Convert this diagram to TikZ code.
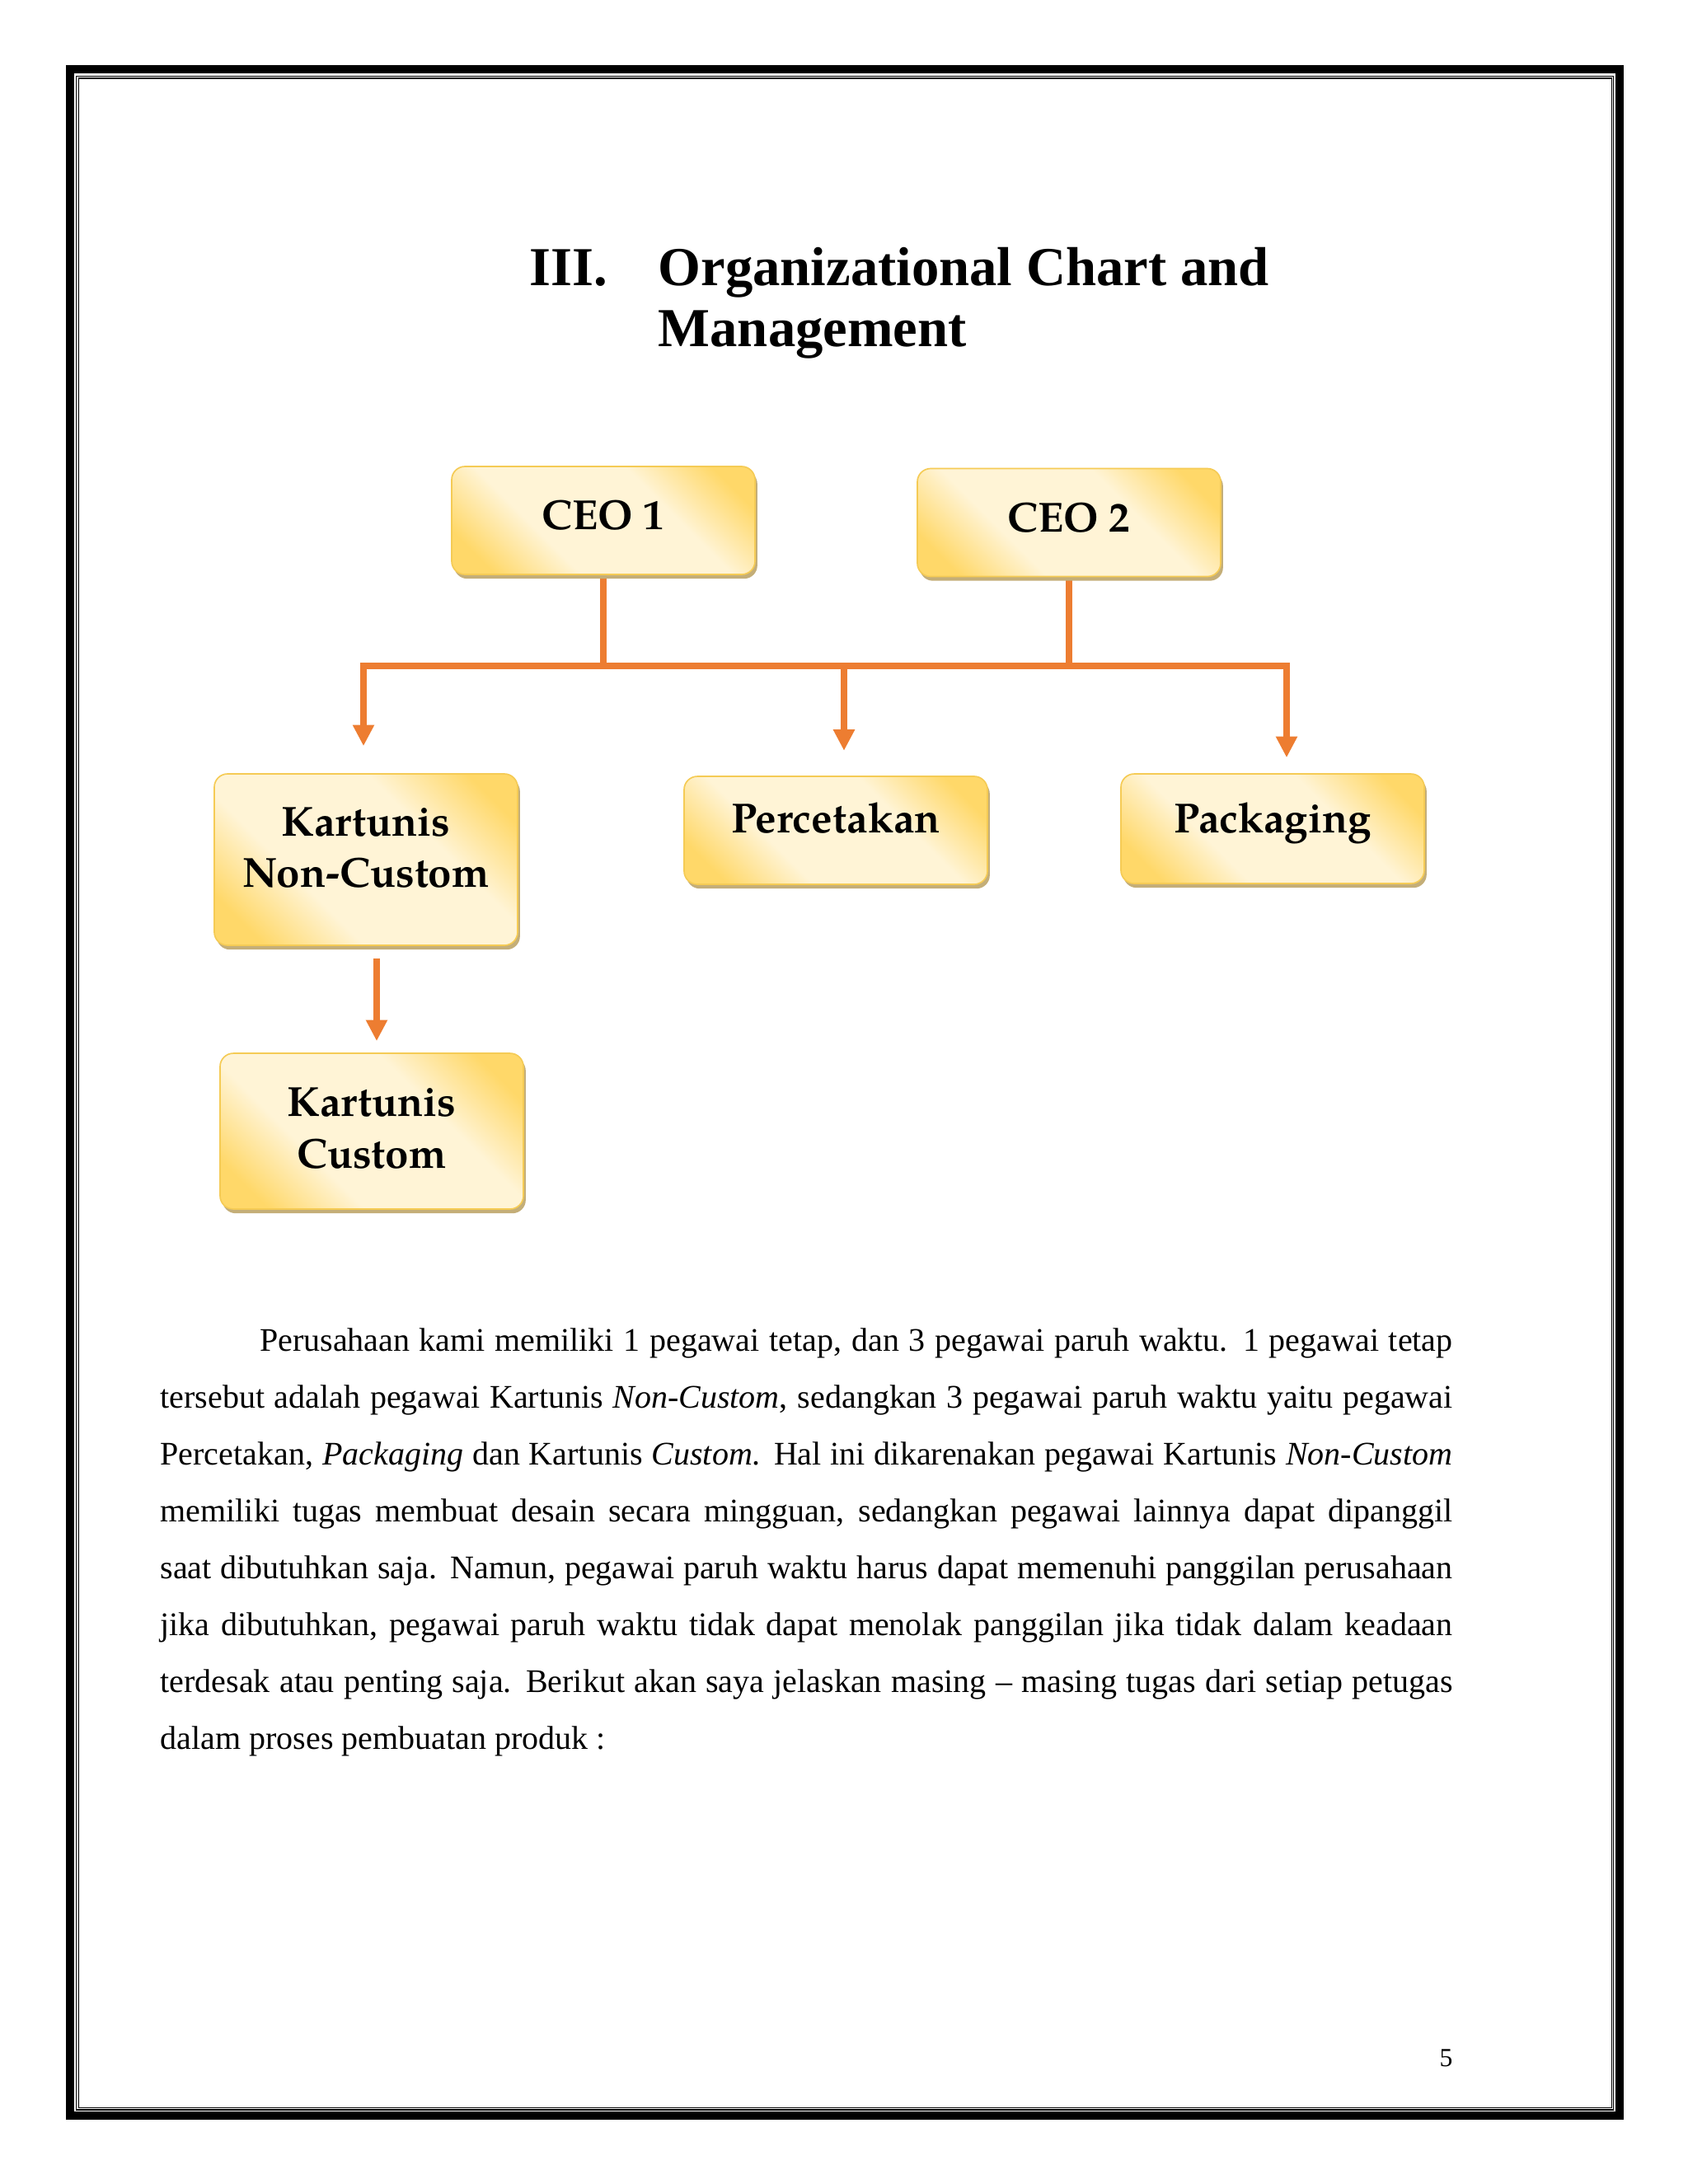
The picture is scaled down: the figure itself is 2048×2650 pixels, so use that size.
\documentclass[tikz,border=0pt]{standalone}
\usepackage{fontspec}
\setmainfont{Liberation Serif}
\newfontfamily\chartfont{TeX Gyre Pagella}
\usetikzlibrary{arrows.meta}
\usetikzlibrary{shadows}
\usetikzlibrary{backgrounds}
\definecolor{linkorange}{HTML}{ED7D31}
\definecolor{boxgold}{HTML}{FFD869}
\definecolor{boxcream}{HTML}{FFF4D6}
\definecolor{boxedge}{HTML}{F5CB55}
\definecolor{boxshade}{HTML}{C4AE78}
\pgfdeclareverticalshading{postglow}{100bp}{color(0bp)=(boxgold); color(22bp)=(boxgold);
  color(37bp)=(boxcream); color(63bp)=(boxcream); color(78bp)=(boxgold); color(100bp)=(boxgold)}

\begin{document}
\begin{tikzpicture}[x=0.010542cm,y=-0.010542cm,
  post/.style={draw=boxedge,line width=0.5pt,rounded corners=0.17cm,
    shading=postglow,shading angle=-45,
    drop shadow={shadow xshift=0.03cm,shadow yshift=-0.055cm,fill=boxshade,opacity=1},
    minimum width=3.88cm,align=center,inner sep=0pt,
    font=\chartfont\bfseries\fontsize{15.3pt}{18.8pt}\selectfont},
  link/.style={draw=linkorange,line width=2.4pt},
  tip/.style={-{Triangle[length=0.27cm,width=0.26cm]}}]

% page border
\draw[line width=0.105cm] (85,84.3) rectangle (1965,2567.3);
\draw[line width=0.013cm] (92.7,92.5) rectangle (1957.5,2560);
\draw[line width=0.013cm] (95.3,95.1) rectangle (1955.2,2557.5);

% heading
\node[anchor=base west,inner sep=0pt,font=\bfseries\fontsize{20pt}{22.1pt}\selectfont] (secnum) at (642,346) {III.};
\node[anchor=base west,inner sep=0pt,align=left,font=\bfseries\fontsize{20pt}{22.1pt}\selectfont] (sectitle) at (798,420) {Organizational Chart and\\Management};

% chart
\node[post,minimum height=1.381cm,text depth=4pt] (ceo1) at (732,631.5) {CEO 1};
\node[post,minimum height=1.381cm,text depth=4pt] (ceo2) at (1297,634) {CEO 2};
\node[post,minimum height=2.193cm,text depth=9pt] (knc) at (444,1043) {Kartunis\\Non-Custom};
\node[post,minimum height=1.381cm,text depth=9pt] (perc) at (1014,1007.5) {Percetakan};
\node[post,minimum height=1.402cm,text depth=8pt] (pack) at (1544,1005.5) {Packaging};
\node[post,minimum height=1.992cm,text depth=2.5pt] (kc) at (451,1372.5) {Kartunis\\Custom};

\coordinate (jleft) at (441,807.5);
\coordinate (jmid) at (1024,807.5);
\coordinate (jright) at (1561,807.5);

\begin{scope}[on background layer]
\path[fill=white,use as bounding box] (0,0) rectangle (2048,2650);
\draw[link] (ceo1.south) -- (ceo1.south |- jmid);
\draw[link] (ceo2.south) -- (ceo2.south |- jmid);
\draw[link,{Triangle[length=0.27cm,width=0.26cm]}-{Triangle[length=0.27cm,width=0.26cm]},shorten <=0.2cm,shorten >=0.348cm]
  (jright |- pack.north) |- (jleft) -- (jleft |- knc.north);
\draw[link,tip,shorten >=0.32cm] (jmid) -- (jmid |- perc.north);
\draw[link,tip,shorten <=0.155cm,shorten >=0.148cm] ([xshift=0.137cm]knc.south) -- ([xshift=0.137cm]knc.south |- kc.north);
\end{scope}

% text
\node[anchor=base west,inner sep=0pt,text width=16.53cm,align=justify,
  font=\fontsize{12pt}{20.7pt}\selectfont] (para) at (194,1639)
{\hyphenpenalty=10000 \exhyphenpenalty=10000
\hspace*{1.27cm}Perusahaan kami memiliki 1 pegawai tetap, dan 3 pegawai paruh waktu. 1 pegawai tetap\linebreak
tersebut adalah pegawai Kartunis \textit{Non-Custom}, sedangkan 3 pegawai paruh waktu yaitu pegawai\linebreak
Percetakan, \textit{Packaging} dan Kartunis \textit{Custom}. Hal ini dikarenakan pegawai Kartunis \textit{Non-Custom}\linebreak
memiliki tugas membuat desain secara mingguan, sedangkan pegawai lainnya dapat dipanggil\linebreak
saat dibutuhkan saja. Namun, pegawai paruh waktu harus dapat memenuhi panggilan perusahaan\linebreak
jika dibutuhkan, pegawai paruh waktu tidak dapat menolak panggilan jika tidak dalam keadaan\linebreak
terdesak atau penting saja. Berikut akan saya jelaskan masing -- masing tugas dari setiap petugas\linebreak
dalam proses pembuatan produk :};

\node[anchor=base east,inner sep=0pt,font=\fontsize{9.5pt}{11pt}\selectfont] (pageno) at (1763,2507) {5};
\end{tikzpicture}
\end{document}
